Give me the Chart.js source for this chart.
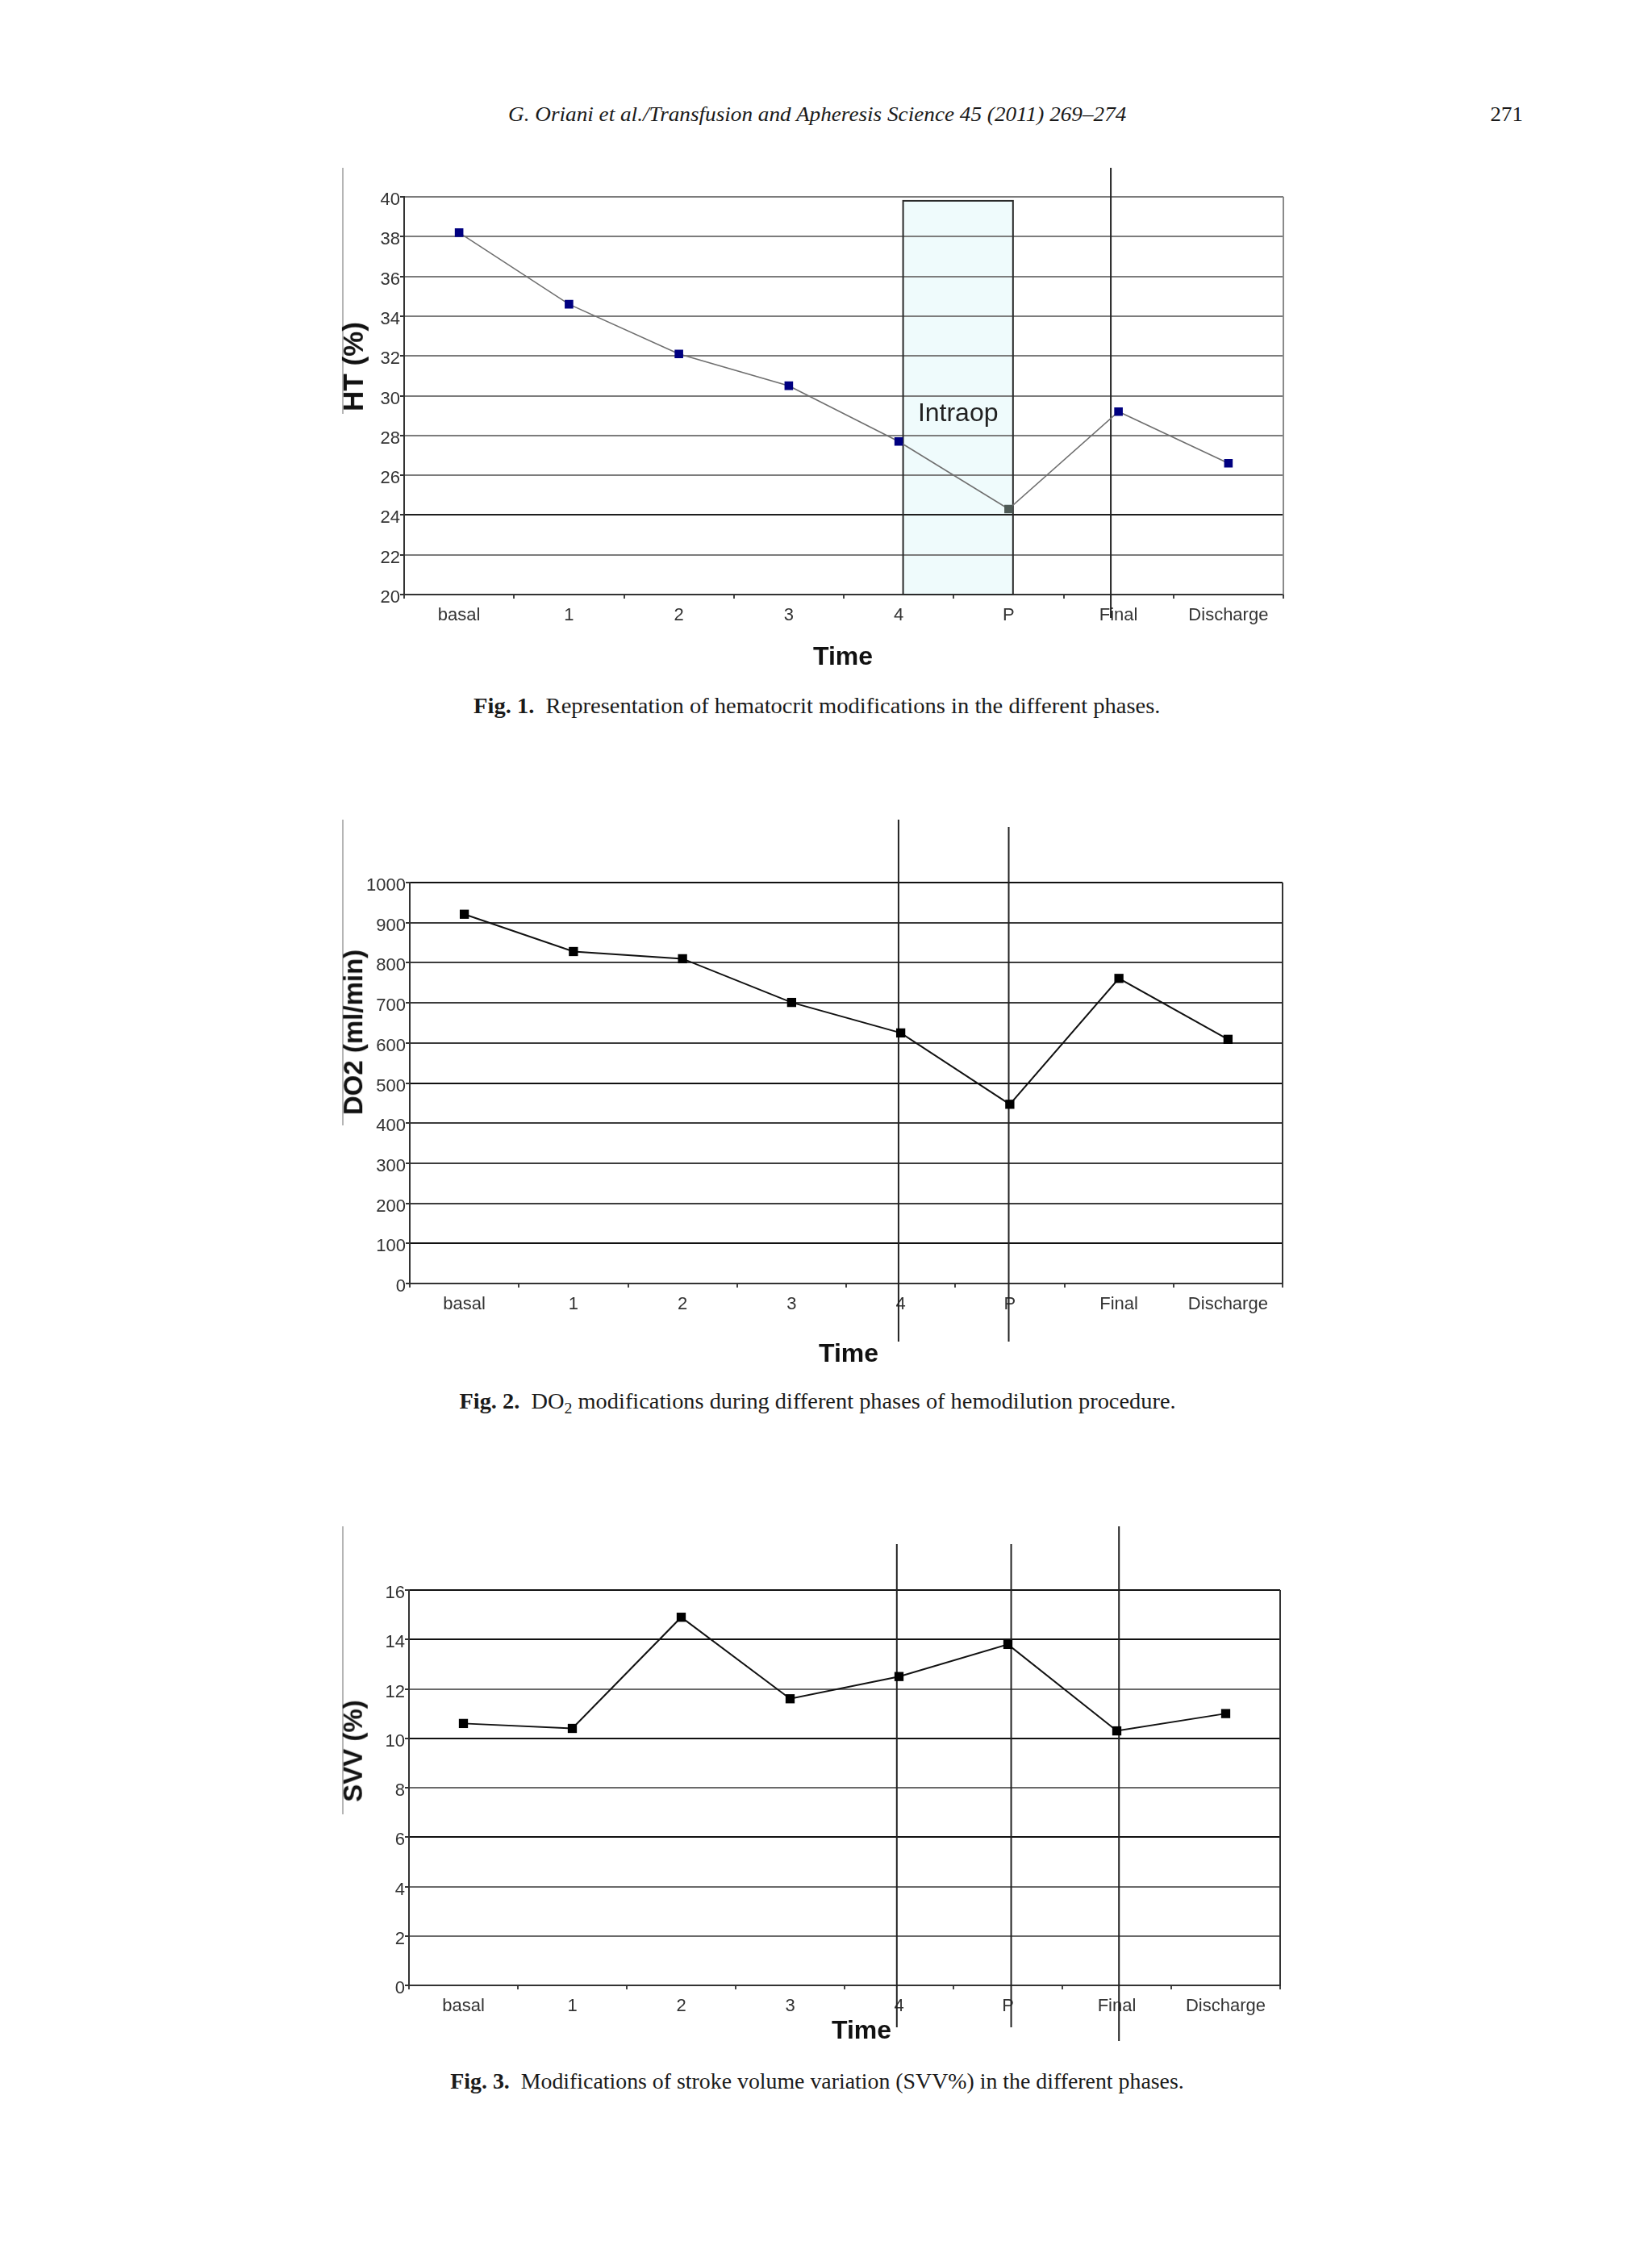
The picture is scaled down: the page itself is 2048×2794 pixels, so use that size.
<!DOCTYPE html>
<html><head><meta charset="utf-8">
<script src="https://cdn.jsdelivr.net/npm/chart.js@4.4.1/dist/chart.umd.min.js"></script>
<style>
html,body{margin:0;padding:0;background:#fff;}
body{width:2048px;height:2794px;position:relative;overflow:hidden;}
canvas{position:absolute;left:0;}
.t{position:absolute;white-space:nowrap;line-height:1;left:0;top:0;}
.serif{font-family:"Liberation Serif","DejaVu Serif",serif;color:#1a1a1a;}
.sans{font-family:"Liberation Sans",Arial,sans-serif;color:#111;font-weight:bold;}
</style></head><body>
<canvas id="c1" width="2048" height="660" style="top:180px"></canvas>
<canvas id="c2" width="2048" height="720" style="top:980px"></canvas>
<canvas id="c3" width="2048" height="685" style="top:1860px"></canvas>
<script>
// ---- data ----
const categories = ['basal','1','2','3','4','P','Final','Discharge'];
const htValues  = [38.2, 34.6, 32.1, 30.5, 27.7, 24.3, 29.2, 26.6];
const do2Values = [921, 828, 810, 701, 625, 447, 761, 609];
const svvValues = [10.6, 10.4, 14.9, 11.6, 12.5, 13.8, 10.3, 11.0];
const htTicks  = [20,22,24,26,28,30,32,34,36,38,40];
const do2Ticks = [0,100,200,300,400,500,600,700,800,900,1000];
const svvTicks = [0,2,4,6,8,10,12,14,16];

const TICK_FONT = { family: '"Liberation Sans", Arial, sans-serif', size: 22 };

// ---- text ----
function place(html, cx, cy, cls, size, opts){
  opts = opts || {};
  const el = document.createElement('div');
  el.className = 't ' + cls;
  el.innerHTML = html;
  el.style.fontSize = size + 'px';
  if (opts.italic) el.style.fontStyle = 'italic';
  document.body.appendChild(el);
  const w = el.offsetWidth, h = el.offsetHeight;
  let k = 1;
  if (opts.width) k = opts.width / w;
  const rot = opts.rotate ? ' rotate(-90deg)' : '';
  el.style.left = (cx - w/2) + 'px';
  el.style.top = (cy - h/2) + 'px';
  el.style.transform = rot + ' scaleX(' + k.toFixed(3) + ')';
  return el;
}
place('G. Oriani et al./Transfusion and Apheresis Science 45 (2011) 269–274', 1013, 141, 'serif', 25, {italic:true, width:766});
place('271', 1868, 141, 'serif', 25, {width:41});
place('HT (%)', 437, 454, 'sans', 35, {rotate:true});
place('Time', 1045, 813, 'sans', 32);
place('<b>Fig. 1.</b>&nbsp; Representation of hematocrit modifications in the different phases.', 1013, 875, 'serif', 27, {width:852});
place('DO2 (ml/min)', 437, 1279, 'sans', 33, {rotate:true});
place('Time', 1052, 1677, 'sans', 32);
place('<b>Fig. 2.</b>&nbsp; DO<sub style="font-size:0.7em;line-height:0">2</sub> modifications during different phases of hemodilution procedure.', 1013, 1737, 'serif', 27, {width:888});
place('SVV (%)', 437, 2170, 'sans', 33, {rotate:true});
place('Time', 1068, 2516, 'sans', 32);
place('<b>Fig. 3.</b>&nbsp; Modifications of stroke volume variation (SVV%) in the different phases.', 1013, 2580, 'serif', 27, {width:909});

// ---- charts ----
function vline(ctx, x, y1, y2, color, w){
  ctx.save(); ctx.strokeStyle = color; ctx.lineWidth = w;
  ctx.beginPath(); ctx.moveTo(x, y1); ctx.lineTo(x, y2); ctx.stroke(); ctx.restore();
}
function makeChart(id, cfg){
  const canvas = document.getElementById(id);
  return new Chart(canvas, {
    type: 'line',
    data: { labels: categories, datasets: [{
      data: cfg.values,
      borderColor: cfg.lineColor, borderWidth: cfg.lineWidth,
      pointStyle: 'rect', pointRadius: cfg.pointRadius,
      pointBackgroundColor: cfg.pointColors, pointBorderColor: cfg.pointColors,
      pointBorderWidth: 0, tension: 0, fill: false
    }]},
    options: {
      responsive: false, animation: false, devicePixelRatio: 1,
      layout: { padding: { top: cfg.padTop, right: cfg.padRight, left: 0, bottom: 0 } },
      plugins: { legend: { display: false }, tooltip: { enabled: false } },
      scales: {
        x: {
          type: 'category', offset: true,
          grid: { display: true, drawOnChartArea: false, drawTicks: true, tickLength: 5, offset: true,
                  color: '#444', tickColor: '#444', lineWidth: 2 },
          border: { display: true, color: '#333', width: 2 },
          ticks: { font: TICK_FONT, color: '#333', padding: 8,
                   maxRotation: 0, minRotation: 0, autoSkip: false },
          afterFit(s){ s.height = cfg.xHeight; }
        },
        y: {
          min: cfg.ticks[0], max: cfg.ticks[cfg.ticks.length-1],
          afterBuildTicks(s){ s.ticks = cfg.ticks.map(v => ({ value: v })); },
          grid: { color: c => (c.tick && cfg.dark.includes(c.tick.value)) ? cfg.darkColor : cfg.gridColor,
                  lineWidth: 2, tickLength: 5, tickColor: '#333', drawTicks: true },
          border: { display: true, color: '#333', width: 2 },
          ticks: { font: TICK_FONT, color: '#333', padding: 0, labelOffset: 4,
                   callback: v => String(v) },
          afterFit(s){ s.width = cfg.yWidth; }
        }
      }
    },
    plugins: [{
      id: 'decor_' + id,
      beforeDraw(chart){ if (cfg.beforeDraw) cfg.beforeDraw(chart); },
      beforeDatasetsDraw(chart){
        const ctx = chart.ctx, a = chart.chartArea;
        vline(ctx, a.right, a.top, a.bottom, cfg.rightColor, 2);
        vline(ctx, 425, cfg.stray[0], cfg.stray[1], '#b5b5b5', 2);
        if (cfg.decor) cfg.decor(chart);
        cfg.vlines.forEach(v => vline(ctx, chart.scales.x.getPixelForValue(v[0]), v[1], v[2], '#222', 2));
      }
    }]
  });
}

// Fig 1
makeChart('c1', {
  values: htValues, ticks: htTicks,
  lineColor: '#6f6f6f', lineWidth: 1.6, pointRadius: 7.5,
  pointColors: htValues.map((v, i) => categories[i] === 'P' ? '#4f5b57' : '#000080'),
  padTop: 64, padRight: 457, xHeight: 103, yWidth: 501,
  dark: [24], darkColor: '#1e1e1e', gridColor: '#7c7c7c', rightColor: '#8a8a8a',
  stray: [28, 333],
  vlines: [[5.93, 28, 586]],
  beforeDraw(chart){
    const ctx = chart.ctx, x = chart.scales.x, y = chart.scales.y;
    const x1 = x.getPixelForValue(4.04), x2 = x.getPixelForValue(5.04);
    const y1 = y.getPixelForValue(39.8), y2 = y.getPixelForValue(20);
    ctx.save(); ctx.fillStyle = '#effbfc'; ctx.fillRect(x1, y1, x2 - x1, y2 - y1); ctx.restore();
  },
  decor(chart){
    const ctx = chart.ctx, x = chart.scales.x, y = chart.scales.y;
    const x1 = x.getPixelForValue(4.04), x2 = x.getPixelForValue(5.04);
    const y1 = y.getPixelForValue(39.8), y2 = y.getPixelForValue(20);
    ctx.save(); ctx.strokeStyle = '#2a2a2a'; ctx.lineWidth = 2;
    ctx.strokeRect(x1, y1, x2 - x1, y2 - y1);
    ctx.fillStyle = '#222'; ctx.font = '32px "Liberation Sans"'; ctx.textAlign = 'center'; ctx.textBaseline = 'middle';
    ctx.fillText('Intraop', x.getPixelForValue(4.54), y.getPixelForValue(29.1));
    ctx.restore();
  }
});
// Fig 2
makeChart('c2', {
  values: do2Values, ticks: do2Ticks,
  lineColor: '#111', lineWidth: 2, pointRadius: 8,
  pointColors: '#000',
  padTop: 114, padRight: 458, xHeight: 109, yWidth: 508,
  dark: [1000, 500, 100], darkColor: '#111', gridColor: '#3c3c3c', rightColor: '#333',
  stray: [36, 415],
  vlines: [[3.98, 36, 683], [4.99, 45, 683]]
});
// Fig 3
makeChart('c3', {
  values: svvValues, ticks: svvTicks,
  lineColor: '#111', lineWidth: 2, pointRadius: 8,
  pointColors: '#000',
  padTop: 111, padRight: 461, xHeight: 84, yWidth: 507,
  dark: [16, 14, 10, 6], darkColor: '#111', gridColor: '#6a6a6a', rightColor: '#333',
  stray: [32, 389],
  vlines: [[3.98, 54, 653], [5.03, 54, 653], [6.02, 32, 670]]
});
</script>
</body></html>
